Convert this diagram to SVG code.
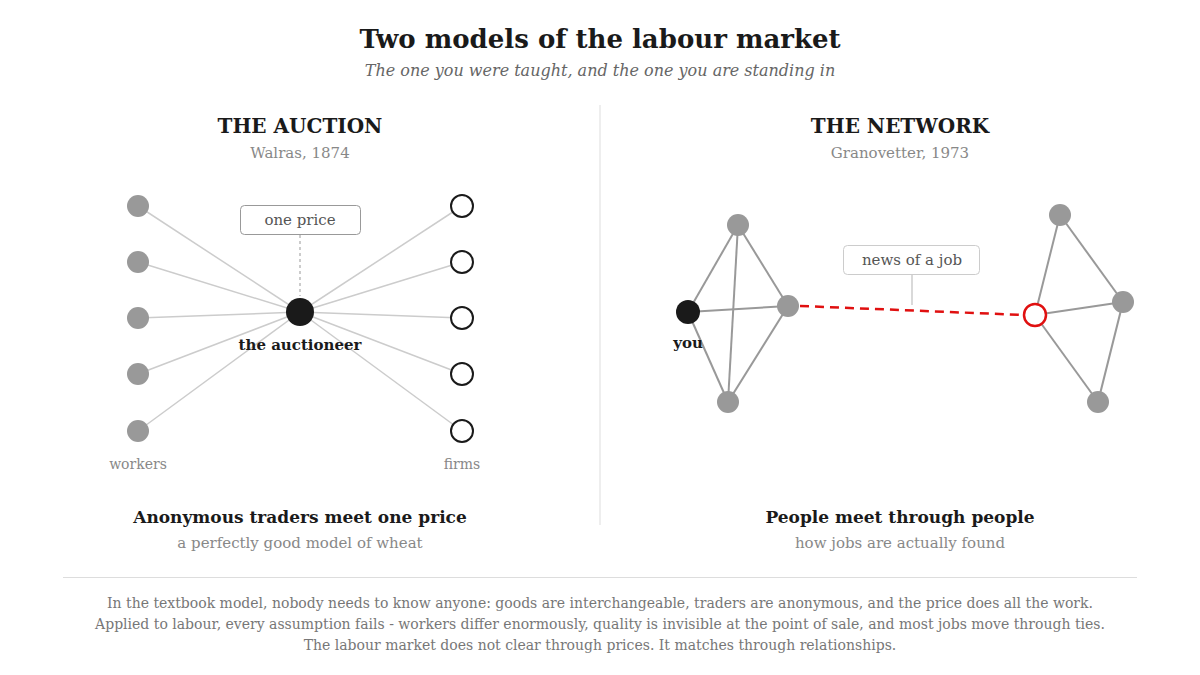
<svg xmlns="http://www.w3.org/2000/svg" width="1200" height="675" viewBox="0 0 1200 675">
<style>
text{font-family:"DejaVu Serif",serif;text-anchor:middle}
.t{font-size:26px;font-weight:bold;fill:#1a1a1a}
.sub{font-size:16px;font-style:italic;fill:#666}
.h{font-size:20px;font-weight:bold;fill:#1a1a1a}
.g{font-size:15px;fill:#888}
.cap{font-size:17px;font-weight:bold;fill:#1a1a1a}
.lab{font-size:14px;fill:#888}
.bl{font-size:15px;font-weight:bold;fill:#1a1a1a}
.ft{font-size:14px;fill:#777}
.sp{stroke:#ccc;stroke-width:1.5}
.ne{stroke:#999;stroke-width:2}
.w{fill:#999}
.f{fill:#fff;stroke:#1a1a1a;stroke-width:2}
</style>
<rect width="1200" height="675" fill="#fff"/>
<text class="t" x="600" y="48">Two models of the labour market</text>
<text class="sub" x="600" y="76">The one you were taught, and the one you are standing in</text>
<line x1="600" y1="105" x2="600" y2="525" stroke="#ddd"/>
<text class="h" x="300" y="133">THE AUCTION</text>
<text class="g" x="300" y="158">Walras, 1874</text>
<text class="h" x="900" y="133">THE NETWORK</text>
<text class="g" x="900" y="158">Granovetter, 1973</text>
<g id="connectors">
<g class="sp">
<line x1="300" y1="312" x2="138" y2="206"/><line x1="300" y1="312" x2="138" y2="262"/><line x1="300" y1="312" x2="138" y2="318"/><line x1="300" y1="312" x2="138" y2="374"/><line x1="300" y1="312" x2="138" y2="431"/>
<line x1="300" y1="312" x2="462" y2="206"/><line x1="300" y1="312" x2="462" y2="262"/><line x1="300" y1="312" x2="462" y2="318"/><line x1="300" y1="312" x2="462" y2="374"/><line x1="300" y1="312" x2="462" y2="431"/>
</g>
<line x1="300" y1="235" x2="300" y2="296" stroke="#999" stroke-dasharray="3,3"/>
<g class="ne">
<line x1="688" y1="312" x2="738" y2="225"/><line x1="688" y1="312" x2="788" y2="306"/><line x1="688" y1="312" x2="728" y2="402"/><line x1="738" y1="225" x2="788" y2="306"/><line x1="738" y1="225" x2="728" y2="402"/><line x1="788" y1="306" x2="728" y2="402"/>
<line x1="1035" y1="315" x2="1060" y2="215"/><line x1="1060" y1="215" x2="1123" y2="302"/><line x1="1035" y1="315" x2="1123" y2="302"/><line x1="1035" y1="315" x2="1098" y2="402"/><line x1="1123" y1="302" x2="1098" y2="402"/>
</g>
<line x1="912" y1="275" x2="912" y2="305" stroke="#ccc" stroke-width="1.5"/>
<line x1="800" y1="306" x2="1024" y2="315" stroke="#e01010" stroke-width="2.5" stroke-dasharray="9,6"/>
</g>
<g id="price"><rect x="240.5" y="205.5" width="120" height="29" rx="4" fill="#fff" stroke="#999"/><text class="g" x="300" y="225" fill="#555" style="fill:#555">one price</text></g>
<g id="auctioneer"><circle cx="300" cy="312" r="14" fill="#1a1a1a"/><text class="bl" x="300" y="350">the auctioneer</text></g>
<g id="workers"><circle class="w" cx="138" cy="206" r="11"/><circle class="w" cx="138" cy="262" r="11"/><circle class="w" cx="138" cy="318" r="11"/><circle class="w" cx="138" cy="374" r="11"/><circle class="w" cx="138" cy="431" r="11"/><text class="lab" x="138" y="469">workers</text></g>
<g id="firms"><circle class="f" cx="462" cy="206" r="11"/><circle class="f" cx="462" cy="262" r="11"/><circle class="f" cx="462" cy="318" r="11"/><circle class="f" cx="462" cy="374" r="11"/><circle class="f" cx="462" cy="431" r="11"/><text class="lab" x="462" y="469">firms</text></g>
<g id="you"><circle cx="688" cy="312" r="12" fill="#1a1a1a"/><text class="bl" x="688" y="348">you</text></g>
<g id="friends"><circle class="w" cx="738" cy="225" r="11"/><circle class="w" cx="788" cy="306" r="11"/><circle class="w" cx="728" cy="402" r="11"/></g>
<g id="others"><circle class="w" cx="1060" cy="215" r="11"/><circle class="w" cx="1123" cy="302" r="11"/><circle class="w" cx="1098" cy="402" r="11"/></g>
<g id="job"><circle cx="1035" cy="315" r="11" fill="#fff" stroke="#e01010" stroke-width="2.5"/></g>
<g id="news"><rect x="843.5" y="245.5" width="136" height="29" rx="4" fill="#fff" stroke="#ccc"/><text x="912" y="265" style="font-size:15px;fill:#555">news of a job</text></g>
<text class="cap" x="300" y="523">Anonymous traders meet one price</text>
<text class="g" x="300" y="548">a perfectly good model of wheat</text>
<text class="cap" x="900" y="523">People meet through people</text>
<text class="g" x="900" y="548">how jobs are actually found</text>
<line x1="63" y1="577.5" x2="1137" y2="577.5" stroke="#ddd"/>
<text class="ft" x="600" y="608">In the textbook model, nobody needs to know anyone: goods are interchangeable, traders are anonymous, and the price does all the work.</text>
<text class="ft" x="600" y="629">Applied to labour, every assumption fails - workers differ enormously, quality is invisible at the point of sale, and most jobs move through ties.</text>
<text class="ft" x="600" y="650">The labour market does not clear through prices. It matches through relationships.</text>
</svg>
